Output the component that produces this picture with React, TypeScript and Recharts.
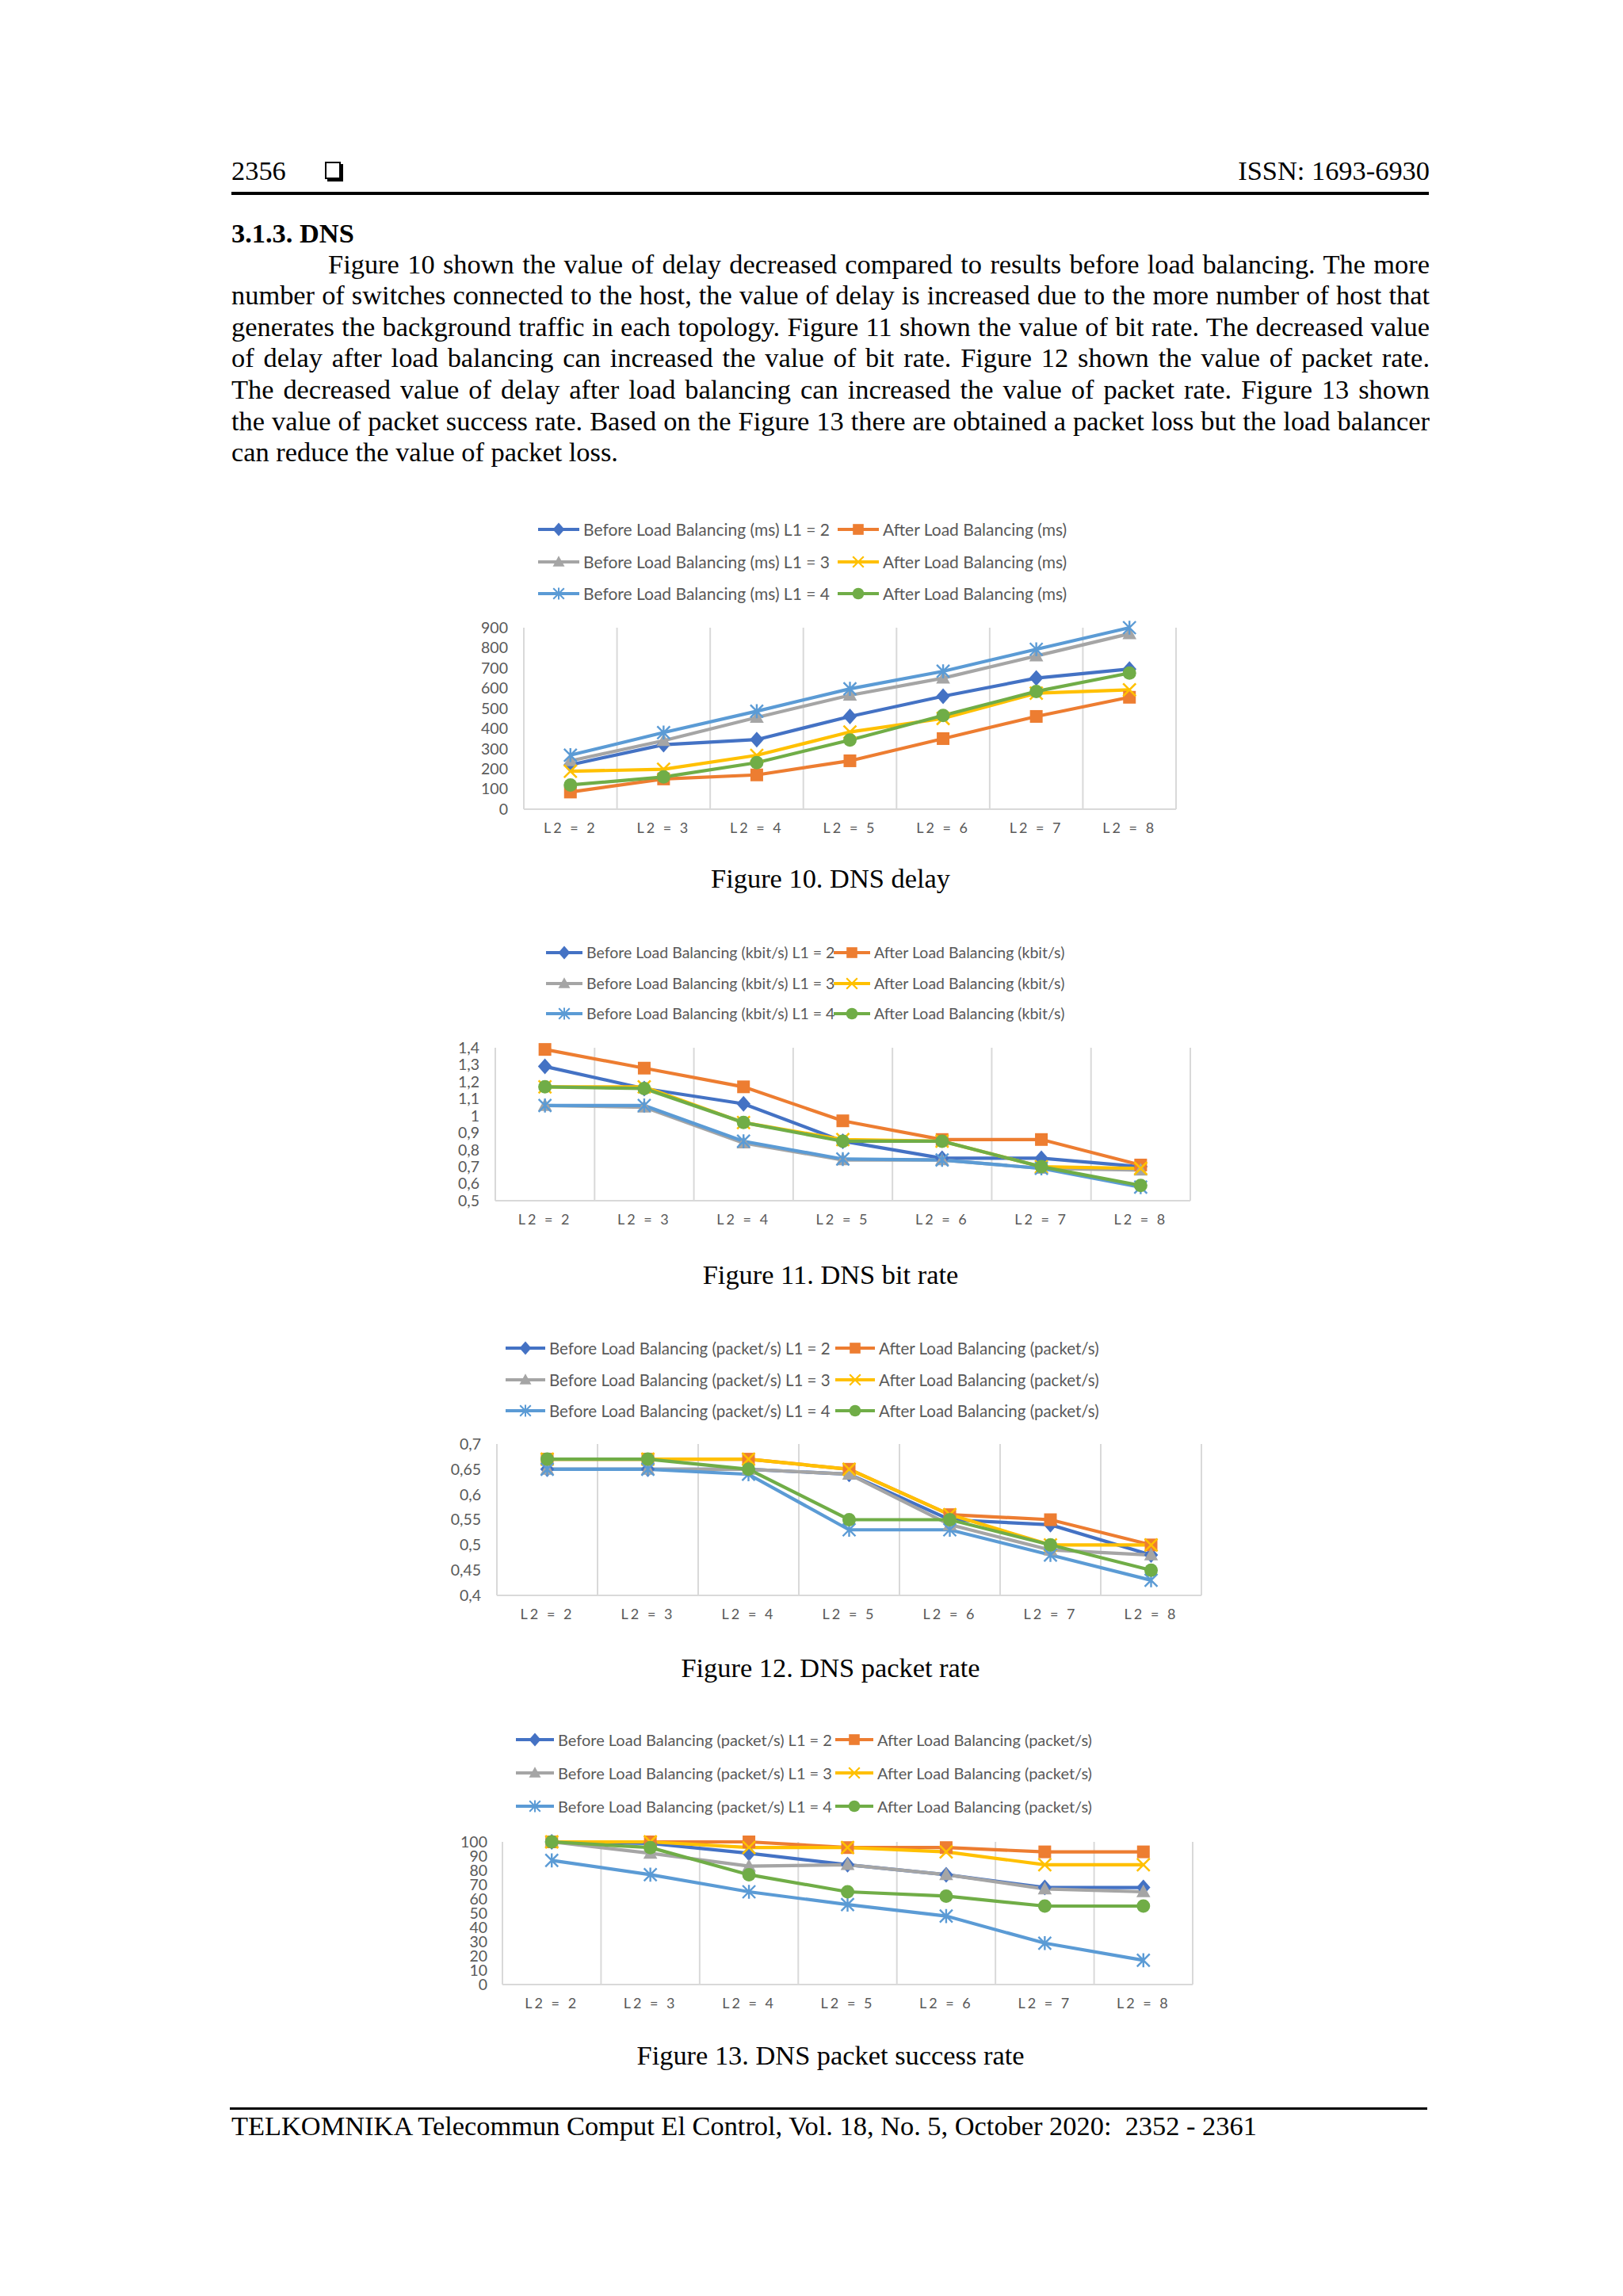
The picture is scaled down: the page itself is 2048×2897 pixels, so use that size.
import React from 'react'
import { LineChart, Line, XAxis, YAxis, CartesianGrid, Legend } from 'recharts'

const categories = ['L2 = 2', 'L2 = 3', 'L2 = 4', 'L2 = 5', 'L2 = 6', 'L2 = 7', 'L2 = 8']

// Figure 10 - delay (ms)
const delayBefore2 = [220, 320, 345, 460, 560, 650, 695]
const delayAfter2 = [85, 150, 170, 240, 350, 460, 555]
const delayBefore3 = [240, 340, 455, 565, 650, 760, 870]
const delayAfter3 = [188, 198, 267, 383, 450, 575, 592]
const delayBefore4 = [268, 380, 486, 597, 684, 793, 900]
const delayAfter4 = [120, 160, 231, 343, 465, 584, 675]
const delayTicks = [0, 100, 200, 300, 400, 500, 600, 700, 800, 900]

// Figure 11 - bit rate (kbit/s)
const bitBefore2 = [1.29, 1.16, 1.07, 0.85, 0.75, 0.75, 0.7]
const bitAfter2 = [1.39, 1.28, 1.17, 0.97, 0.86, 0.86, 0.71]
const bitBefore3 = [1.06, 1.05, 0.84, 0.74, 0.74, 0.69, 0.68]
const bitAfter3 = [1.17, 1.17, 0.96, 0.86, 0.85, 0.7, 0.69]
const bitBefore4 = [1.06, 1.06, 0.85, 0.745, 0.74, 0.69, 0.58]
const bitAfter4 = [1.17, 1.16, 0.96, 0.85, 0.85, 0.7, 0.59]
const bitTicks = [0.5, 0.6, 0.7, 0.8, 0.9, 1, 1.1, 1.2, 1.3, 1.4]

// Figure 12 - packet rate (packet/s)
const rateBefore2 = [0.65, 0.65, 0.65, 0.64, 0.55, 0.54, 0.48]
const rateAfter2 = [0.67, 0.67, 0.67, 0.65, 0.56, 0.55, 0.5]
const rateBefore3 = [0.65, 0.65, 0.65, 0.64, 0.54, 0.49, 0.48]
const rateAfter3 = [0.67, 0.67, 0.67, 0.65, 0.56, 0.5, 0.5]
const rateBefore4 = [0.65, 0.65, 0.64, 0.53, 0.53, 0.48, 0.43]
const rateAfter4 = [0.67, 0.67, 0.65, 0.55, 0.55, 0.5, 0.45]
const rateTicks = [0.4, 0.45, 0.5, 0.55, 0.6, 0.65, 0.7]

// Figure 13 - packet success rate
const successBefore2 = [100, 99, 92, 84, 77, 68, 68]
const successAfter2 = [100, 100, 100, 96, 96, 93, 93]
const successBefore3 = [100, 92, 83, 84, 77, 67, 65]
const successAfter3 = [100, 100, 96, 96, 93, 84, 84]
const successBefore4 = [87, 77, 65, 56, 48, 29, 17]
const successAfter4 = [100, 96, 77, 65, 62, 55, 55]
const successTicks = [0, 10, 20, 30, 40, 50, 60, 70, 80, 90, 100]

const legendMs = [
  'Before Load Balancing (ms) L1 = 2', 'After Load Balancing (ms)',
  'Before Load Balancing (ms) L1 = 3', 'After Load Balancing (ms)',
  'Before Load Balancing (ms) L1 = 4', 'After Load Balancing (ms)',
]
const legendKbit = [
  'Before Load Balancing (kbit/s) L1 = 2', 'After Load Balancing (kbit/s)',
  'Before Load Balancing (kbit/s) L1 = 3', 'After Load Balancing (kbit/s)',
  'Before Load Balancing (kbit/s) L1 = 4', 'After Load Balancing (kbit/s)',
]
const legendPacket = [
  'Before Load Balancing (packet/s) L1 = 2', 'After Load Balancing (packet/s)',
  'Before Load Balancing (packet/s) L1 = 3', 'After Load Balancing (packet/s)',
  'Before Load Balancing (packet/s) L1 = 4', 'After Load Balancing (packet/s)',
]

const seriesKeys = ['b2', 'a2', 'b3', 'a3', 'b4', 'a4']
const seriesColors = ['#4472C4', '#ED7D31', '#A5A5A5', '#FFC000', '#5B9BD5', '#70AD47']
const seriesShapes = ['diamond', 'square', 'triangle', 'x', 'star', 'circle']

const buildRows = (series: number[][]) =>
  categories.map((cat, i) => {
    const row: any = { cat }
    seriesKeys.forEach((k, j) => (row[k] = series[j][i]))
    return row
  })

const commaFmt = (v: number) => String(v).replace('.', ',')

const CHART_FONT = 'Lato, "Open Sans", sans-serif'
const SERIF = '"Liberation Serif", "Times New Roman", serif'
const TEXT_GRAY = '#595959'
const GRID = '#d9d9d9'

function Marker({ shape, color, cx, cy, s = 1 }: any) {
  if (cx == null || cy == null) return null
  const r = 8 * s
  switch (shape) {
    case 'diamond':
      return <path d={`M${cx},${cy - r * 1.25}L${cx + r * 1.1},${cy}L${cx},${cy + r * 1.25}L${cx - r * 1.1},${cy}Z`} fill={color} />
    case 'square':
      return <rect x={cx - r} y={cy - r} width={r * 2} height={r * 2} fill={color} />
    case 'triangle':
      return <path d={`M${cx},${cy - r * 1.15}L${cx + r * 1.1},${cy + r * 0.85}L${cx - r * 1.1},${cy + r * 0.85}Z`} fill={color} />
    case 'x':
      return (
        <path
          d={`M${cx - r},${cy - r}L${cx + r},${cy + r}M${cx + r},${cy - r}L${cx - r},${cy + r}`}
          stroke={color}
          strokeWidth={2.6 * s}
          fill="none"
        />
      )
    case 'star':
      return (
        <path
          d={`M${cx - r},${cy - r}L${cx + r},${cy + r}M${cx + r},${cy - r}L${cx - r},${cy + r}M${cx},${cy - r * 1.1}L${cx},${cy + r * 1.1}`}
          stroke={color}
          strokeWidth={2.4 * s}
          fill="none"
        />
      )
    default:
      return <circle cx={cx} cy={cy} r={r + 0.5} fill={color} />
  }
}

function LegendBlock({ labels, rows, cols, font, iconW, height, width }: any) {
  return (
    <div style={{ position: 'relative', width, height }}>
      {labels.map((label: string, i: number) => (
        <div
          key={i}
          style={{
            position: 'absolute',
            left: cols[i % 2],
            top: rows[Math.floor(i / 2)] - 12,
            height: 24,
            display: 'flex',
            alignItems: 'center',
          }}
        >
          <svg width={iconW} height={24} style={{ display: 'block' }}>
            <line x1={0} y1={12} x2={iconW} y2={12} stroke={seriesColors[i]} strokeWidth={4} />
            <Marker shape={seriesShapes[i]} color={seriesColors[i]} cx={iconW / 2} cy={12} s={0.85} />
          </svg>
          <span
            style={{
              marginLeft: 5,
              fontFamily: CHART_FONT,
              fontSize: font,
              color: TEXT_GRAY,
              whiteSpace: 'nowrap',
              lineHeight: '24px',
            }}
          >
            {label}
          </span>
        </div>
      ))}
    </div>
  )
}

function DnsChart({ cfg, rows, labels, ticks, domain, fmt }: any) {
  const plotW = cfg.plotRight - cfg.plotLeft
  const catW = plotW / categories.length
  const width = cfg.plotRight - cfg.x + 26
  const legendH = cfg.plotTop - cfg.y
  const height = cfg.plotBottom + 50 - cfg.y
  return (
    <div style={{ position: 'absolute', left: cfg.x, top: cfg.y }}>
      <LineChart width={width} height={height} data={rows} margin={{ top: 0, right: 26, left: 0, bottom: 0 }}>
        <Legend
          verticalAlign="top"
          align="left"
          wrapperStyle={{ top: 0, left: 0, width, height: legendH }}
          content={() => (
            <LegendBlock
              labels={labels}
              rows={cfg.legendRows}
              cols={cfg.legendCols}
              font={cfg.legendFont}
              iconW={cfg.iconW}
              height={legendH}
              width={width}
            />
          )}
        />
        <CartesianGrid
          horizontal={false}
          stroke={GRID}
          strokeWidth={2}
          verticalCoordinatesGenerator={({ offset }: any) =>
            categories.map((_, i) => offset.left + (i * offset.width) / categories.length).concat([offset.left + offset.width])
          }
        />
        <XAxis
          dataKey="cat"
          interval={0}
          padding={{ left: catW / 2, right: catW / 2 }}
          tickLine={false}
          tickSize={0}
          tickMargin={17}
          height={50}
          axisLine={{ stroke: GRID, strokeWidth: 2 }}
          tick={{ fontFamily: CHART_FONT, fontSize: 18, fill: TEXT_GRAY, letterSpacing: 3 }}
        />
        <YAxis
          type="number"
          domain={domain}
          ticks={ticks}
          interval={0}
          width={cfg.plotLeft - cfg.x}
          axisLine={false}
          tickLine={false}
          tickSize={0}
          tickMargin={cfg.yMargin}
          tickFormatter={fmt}
          tick={{ fontFamily: CHART_FONT, fontSize: 19.5, fill: TEXT_GRAY }}
        />
        {seriesKeys.map((k, j) => (
          <Line
            key={k}
            dataKey={k}
            type="linear"
            stroke={seriesColors[j]}
            strokeWidth={4.2}
            isAnimationActive={false}
            activeDot={false}
            dot={(p: any) => (
              <Marker key={`${k}-${p.index}`} shape={seriesShapes[j]} color={seriesColors[j]} cx={p.cx} cy={p.cy} />
            )}
          />
        ))}
      </LineChart>
    </div>
  )
}

const fig10 = {
  x: 560, y: 630, plotLeft: 661, plotRight: 1484, plotTop: 792, plotBottom: 1021, yMargin: 20,
  legendRows: [38, 79, 119], legendCols: [119, 497], legendFont: 21, iconW: 52,
}
const fig11 = {
  x: 525, y: 1170, plotLeft: 625, plotRight: 1502, plotTop: 1322, plotBottom: 1515, yMargin: 20,
  legendRows: [32, 71, 109], legendCols: [164, 527], legendFont: 19.5, iconW: 46,
}
const fig12 = {
  x: 527, y: 1670, plotLeft: 627, plotRight: 1516, plotTop: 1822, plotBottom: 2013, yMargin: 20,
  legendRows: [31, 71, 110], legendCols: [111, 527], legendFont: 20.5, iconW: 50,
}
const fig13 = {
  x: 534, y: 2165, plotLeft: 634, plotRight: 1505, plotTop: 2324, plotBottom: 2504, yMargin: 19,
  legendRows: [30, 72, 114], legendCols: [117, 520], legendFont: 20, iconW: 48,
}

const bodyLines = [
  'Figure 10 shown the value of delay decreased compared to results before load balancing. The more',
  'number of switches connected to the host, the value of delay is increased due to the more number of host that',
  'generates the background traffic in each topology. Figure 11 shown the value of bit rate. The decreased value',
  'of delay after load balancing can increased the value of bit rate. Figure 12 shown the value of packet rate.',
  'The decreased value of delay after load balancing can increased the value of packet rate. Figure 13 shown',
  'the value of packet success rate. Based on the Figure 13 there are obtained a packet loss but the load balancer',
  'can reduce the value of packet loss.',
]

const textBase: React.CSSProperties = {
  position: 'absolute',
  fontFamily: SERIF,
  fontSize: 34.4,
  lineHeight: '39.6px',
  color: '#000',
  whiteSpace: 'nowrap',
}
const BASE_OFF = 31.4

const Caption = ({ text, baseline }: any) => (
  <div style={{ ...textBase, left: 292, width: 1512, top: baseline - BASE_OFF, textAlign: 'center' }}>{text}</div>
)

export default function App() {
  return (
    <div style={{ position: 'absolute', left: 0, top: 0, width: 2048, height: 2897, background: '#fff', overflow: 'hidden' }}>
      <div style={{ ...textBase, left: 292, top: 227 - BASE_OFF }}>2356</div>
      <div
        style={{
          position: 'absolute', left: 410, top: 204, width: 16, height: 18,
          border: '2px solid #000', boxShadow: '3px 3px 0 #000',
        }}
      />
      <div style={{ ...textBase, left: 292, width: 1512, top: 227 - BASE_OFF, textAlign: 'right' }}>ISSN: 1693-6930</div>
      <div style={{ position: 'absolute', left: 292, top: 242, width: 1511, height: 4, background: '#000' }} />

      <div style={{ ...textBase, left: 292, top: 306 - BASE_OFF, fontWeight: 'bold' }}>3.1.3. DNS</div>
      {bodyLines.map((line, i) => {
        const last = i === bodyLines.length - 1
        const indent = i === 0 ? 122 : 0
        return (
          <div
            key={i}
            style={{
              ...textBase,
              left: 292 + indent,
              width: 1512 - indent,
              top: 345 - BASE_OFF + i * 39.6,
              textAlign: last ? 'left' : 'justify',
              textAlignLast: last ? 'left' : 'justify',
            }}
          >
            {line}
          </div>
        )
      })}

      <DnsChart
        cfg={fig10}
        rows={buildRows([delayBefore2, delayAfter2, delayBefore3, delayAfter3, delayBefore4, delayAfter4])}
        labels={legendMs}
        ticks={delayTicks}
        domain={[0, 900]}
        fmt={commaFmt}
      />
      <Caption text="Figure 10. DNS delay" baseline={1120} />

      <DnsChart
        cfg={fig11}
        rows={buildRows([bitBefore2, bitAfter2, bitBefore3, bitAfter3, bitBefore4, bitAfter4])}
        labels={legendKbit}
        ticks={bitTicks}
        domain={[0.5, 1.4]}
        fmt={commaFmt}
      />
      <Caption text="Figure 11. DNS bit rate" baseline={1620} />

      <DnsChart
        cfg={fig12}
        rows={buildRows([rateBefore2, rateAfter2, rateBefore3, rateAfter3, rateBefore4, rateAfter4])}
        labels={legendPacket}
        ticks={rateTicks}
        domain={[0.4, 0.7]}
        fmt={commaFmt}
      />
      <Caption text="Figure 12. DNS packet rate" baseline={2116} />

      <DnsChart
        cfg={fig13}
        rows={buildRows([successBefore2, successAfter2, successBefore3, successAfter3, successBefore4, successAfter4])}
        labels={legendPacket}
        ticks={successTicks}
        domain={[0, 100]}
        fmt={commaFmt}
      />
      <Caption text="Figure 13. DNS packet success rate" baseline={2605} />

      <div style={{ position: 'absolute', left: 290, top: 2659, width: 1511, height: 3, background: '#000' }} />
      <div style={{ ...textBase, left: 292, top: 2694 - BASE_OFF, whiteSpace: 'pre' }}>
        {'TELKOMNIKA Telecommun Comput El Control, Vol. 18, No. 5, October 2020:  2352 - 2361'}
      </div>
    </div>
  )
}
